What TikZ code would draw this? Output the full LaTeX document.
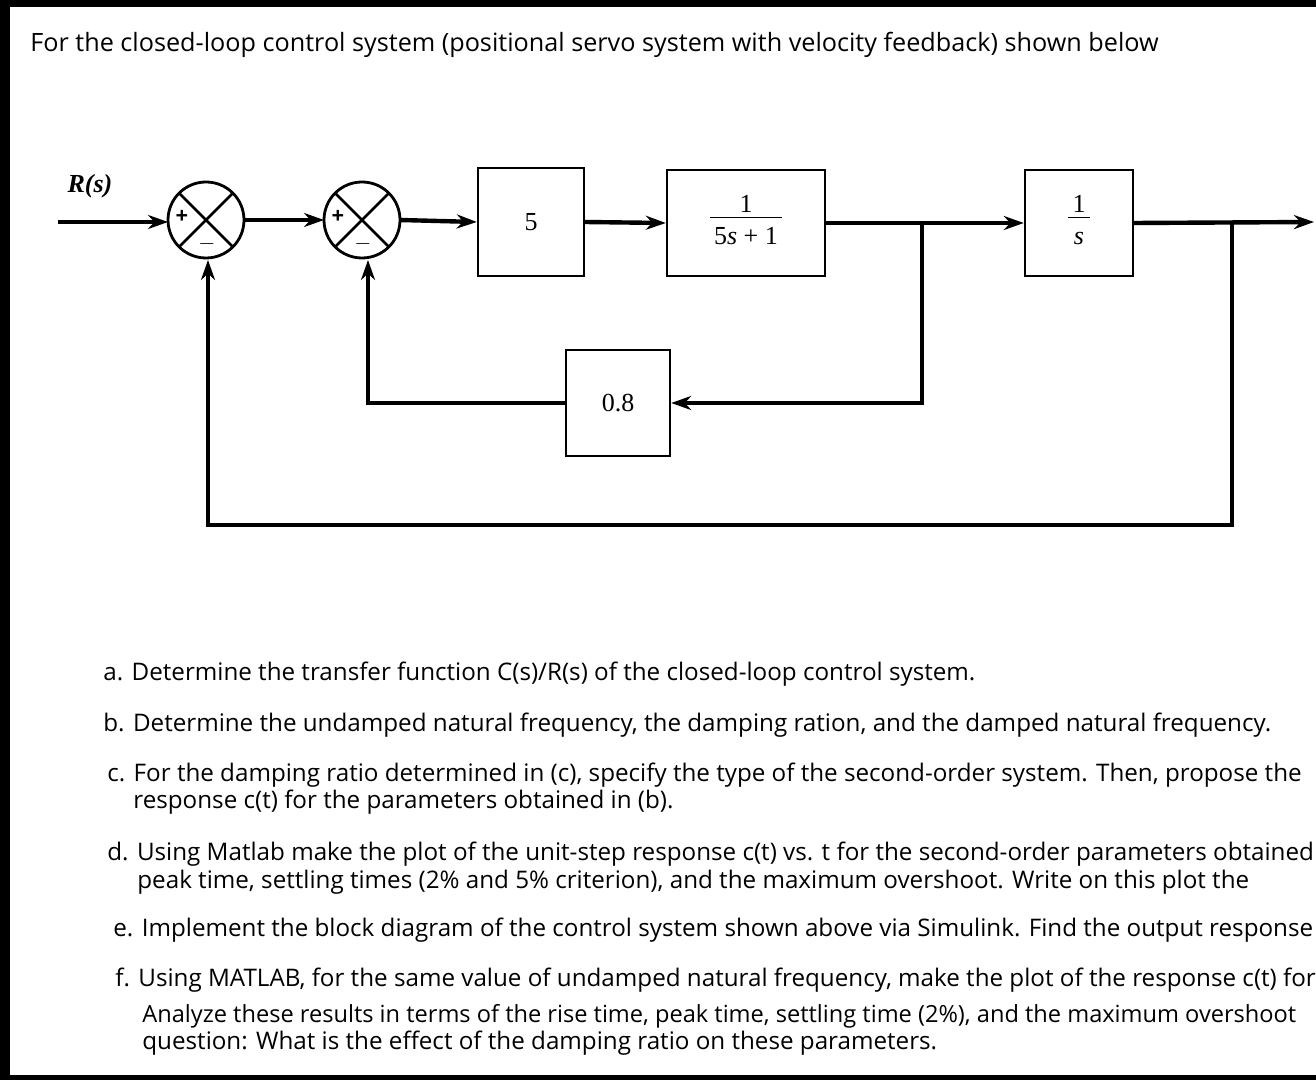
\documentclass[tikz,border=0pt]{standalone}
\usepackage{fontspec}
\setmainfont{Open Sans}
\newfontfamily\tms{Liberation Serif}
\usetikzlibrary{arrows.meta,calc}
\tikzset{
 wire/.style={line width=2.2pt},
 arr/.style={wire,-{Stealth[length=10pt,width=7pt]}},
 blk/.style={draw,line width=1.2pt},
 sumc/.style={draw,circle,line width=1.4pt},
 qt/.style={anchor=base west,font=\fontsize{12.1}{14}\selectfont,inner sep=0pt},
 dt/.style={font=\tms\fontsize{13}{14}\selectfont}
}
\begin{document}
\begin{tikzpicture}[x=0.5pt,y=-0.5pt]
\useasboundingbox (0,0) rectangle (1316,1080);
\fill[black] (0,0) rectangle (1316,1080);
\fill[white] (10,7) rectangle (1316,1075);
\node[qt,font=\fontsize{12.6}{14}\selectfont] (title) at (30,52) {For the closed-loop control system (positional servo system with velocity feedback) shown below};
% diagram
\node[dt,font=\tms\bfseries\itshape\fontsize{13}{14}\selectfont] (R) at (90,186) {R(s)};
\coordinate (in) at (58,222);
\draw[sumc] (206,220) circle (38);
\draw[sumc] (362,220) circle (38);
\coordinate (s1) at (206,220); \coordinate (s2) at (362,220);
\foreach \c in {s1,s2}{
  \draw[line width=1.4pt] ($(\c)+(-27,-27)$) -- ($(\c)+(27,27)$);
  \draw[line width=1.4pt] ($(\c)+(-27,27)$) -- ($(\c)+(27,-27)$);
  \node[font=\bfseries\fontsize{11}{11}\selectfont] at ($(\c)+(-24,-3)$) {+};
  \node[font=\bfseries\fontsize{11}{11}\selectfont] at ($(\c)+(1,24)$) {$-$};
}
\node[blk,dt,minimum width=53pt,minimum height=54pt] (g1) at (531,222) {5};
\node[blk,dt,minimum width=79pt,minimum height=53pt] (g2) at (746,223) {\begin{tabular}{@{\,}c@{\,}}1\\[-2pt]\hline\rule{0pt}{13pt}5\textit{s} + 1\end{tabular}};
\node[blk,dt,minimum width=54pt,minimum height=53pt] (g3) at (1079,223) {\begin{tabular}{@{\,}c@{\,}}1\\[-2pt]\hline\rule{0pt}{13pt}\textit{s}\end{tabular}};
\node[blk,dt,minimum width=52pt,minimum height=53pt] (h) at (618,403) {0.8};
\coordinate (b1) at (922,222);
\coordinate (b2) at (1232,222);
\coordinate (out) at (1314,222);
\draw[arr] (in) -- (168,222);
\draw[arr] (244,220) -- (324,220);
\draw[arr] (400,220) -- (g1.west);
\draw[arr] (g1.east) -- (g2.west);
\draw[arr] (g2.east) -- (g3.west);
\draw[arr] (g3.east) -- (out);
\draw[arr] (b1) -- (922,403) -- (h.east);
\draw[arr] (h.west) -- (368,403) -- (368,260);
\draw[arr] (b2) -- (1232,525) -- (208,525) -- (208,260);
% questions
\node[qt] at (103,680) {a. Determine the transfer function C(s)/R(s) of the closed-loop control system.};
\node[qt] at (103,731) {b. Determine the undamped natural frequency, the damping ration, and the damped natural frequency.};
\node[qt] at (107,781) {c. For the damping ratio determined in (c), specify the type of the second-order system. Then, propose the};
\node[qt] at (133,808) {response c(t) for the parameters obtained in (b).};
\node[qt] at (107,860) {d. Using Matlab make the plot of the unit-step response c(t) vs. t for the second-order parameters obtained};
\node[qt] at (137,888) {peak time, settling times (2\% and 5\% criterion), and the maximum overshoot. Write on this plot the};
\node[qt] at (113,936) {e. Implement the block diagram of the control system shown above via Simulink. Find the output response};
\node[qt] at (115,986) {f. Using MATLAB, for the same value of undamped natural frequency, make the plot of the response c(t) for};
\node[qt,font=\fontsize{11.8}{14}\selectfont] at (142,1022) {Analyze these results in terms of the rise time, peak time, settling time (2\%), and the maximum overshoot};
\node[qt] at (142,1049) {question: What is the effect of the damping ratio on these parameters.};
\end{tikzpicture}
\end{document}
